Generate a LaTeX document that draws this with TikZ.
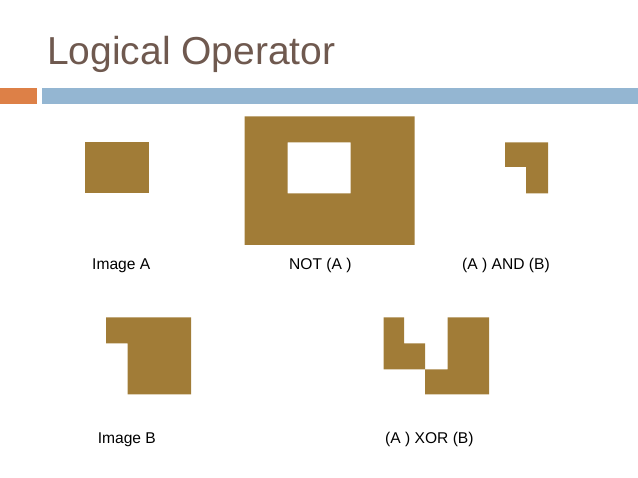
\documentclass[tikz,border=0pt]{standalone}
\usepackage{fontspec}
\setmainfont{Liberation Sans}
\usepackage{tikz}
\usetikzlibrary{positioning}
\usepackage{xcolor}
\definecolor{lotitle}{RGB}{111,89,79}
\definecolor{loorange}{RGB}{221,128,71}
\definecolor{loblue}{RGB}{148,182,210}
\definecolor{logold}{RGB}{161,124,55}
\tikzstyle{pixels} = [fill=logold, draw=none]
\tikzstyle{caption} = [anchor=base west, inner sep=0pt, font=\fontsize{15.6}{18}\selectfont]

\begin{document}
\begin{tikzpicture}[x=1pt,y=-1pt]
\useasboundingbox (0,0) rectangle (638,478);

% Title and bars
\node[anchor=base west, inner sep=0pt, lotitle, font=\fontsize{39}{46}\selectfont] (title) at (47,65) {Logical Operator};
\fill[loorange] (0,88.5) rectangle (37,104);
\fill[loblue] (42,88.5) rectangle (638,104);

% Image A
\fill[pixels] (85,142.5) rectangle (149,193.5);
\node[caption] (capA) at (92,269.5) {Image A};

% NOT (A)
\fill[pixels, even odd rule] (244.5,116.5) rectangle (414.5,245) (287.5,142.5) rectangle (350.5,193.5);
\node[caption] (capnot) at (289,269.5) {NOT (A )};

% (A) AND (B)
\fill[pixels] (505,142.5) -- (548,142.5) -- (548,193.5) -- (526,193.5) -- (526,167) -- (505,167) -- cycle;
\node[caption] (capand) at (462,269.5) {(A ) AND (B)};

% Image B
\fill[pixels] (106,317.5) -- (191,317.5) -- (191,394.5) -- (127.5,394.5) -- (127.5,343.5) -- (106,343.5) -- cycle;
\node[caption] (capB) at (97.6,444) {Image B};

% (A) XOR (B)
\fill[pixels] (383.5,317.5) -- (404,317.5) -- (404,343.5) -- (425,343.5) -- (425,369.5) -- (383.5,369.5) -- cycle;
\fill[pixels] (447.5,317.5) -- (489,317.5) -- (489,394.5) -- (425,394.5) -- (425,369.5) -- (447.5,369.5) -- cycle;
\node[caption] (capxor) at (385,444) {(A ) XOR (B)};
\end{tikzpicture}
\end{document}
